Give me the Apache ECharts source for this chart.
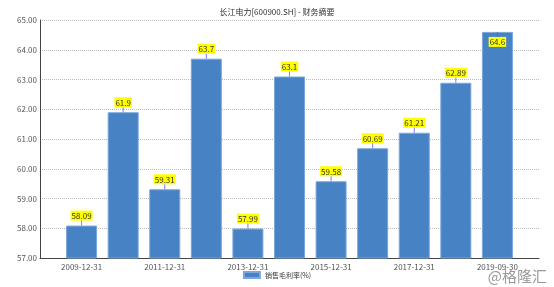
<!DOCTYPE html>
<html><head><meta charset="utf-8">
<script src="https://cdn.jsdelivr.net/npm/echarts@6/dist/echarts.min.js"></script>
<style>html,body{margin:0;padding:0;background:#fff}#c{width:554px;height:287px}</style>
</head><body><div id="c"></div>
<script>
const title = '长江电力[600900.SH] - 财务摘要';
const seriesName = '销售毛利率(%)';
const categories = ['2009-12-31','2010-12-31','2011-12-31','2012-12-31','2013-12-31','2014-12-31','2015-12-31','2016-12-31','2017-12-31','2018-12-31','2019-09-30'];
const values = [58.09, 61.9, 59.31, 63.7, 57.99, 63.1, 59.58, 60.69, 61.21, 62.89, 64.6];
const yTicks = [57, 58, 59, 60, 61, 62, 63, 64, 65];

const xData = [''].concat(categories, ['']);
const pad = v => [null].concat(v, [null]);
const lastIdx = values.length; // index in padded array
const font = '"Microsoft YaHei","Noto Sans CJK SC",sans-serif';

const barData = pad(values).map((v, i) => {
  if (v === null) return null;
  if (i === lastIdx) return {value: v, label: {position: 'insideTop', distance: 5}};
  return v;
});
const lineData = pad(values).map((v, i) => {
  if (v === null) return null;
  return {value: v, symbolOffset: i === lastIdx ? [0, 2.5] : [0, -2.5]};
});

const chart = echarts.init(document.getElementById('c'));
chart.setOption({
  animation: false,
  title: {text: title, left: 'center', top: 3, textStyle: {fontSize: 8, fontWeight: 'normal', color: '#333', fontFamily: font}},
  grid: {left: 40, right: 15, top: 20, bottom: 29},
  legend: {bottom: 3, left: 'center', icon: 'rect', itemWidth: 16, itemHeight: 6, itemGap: 4,
    data: [seriesName], textStyle: {fontSize: 7, color: '#333', fontFamily: font}},
  xAxis: {type: 'category', data: xData, boundaryGap: false,
    axisLine: {lineStyle: {color: '#444'}}, axisTick: {show: false},
    axisLabel: {interval: 0, formatter: (v, i) => (i % 2 === 1 ? v : ''), color: '#555', fontSize: 8, margin: 5, fontFamily: font},
    splitLine: {show: false}},
  yAxis: {type: 'value', min: yTicks[0], max: yTicks[yTicks.length - 1], interval: 1,
    axisLine: {show: true, lineStyle: {color: '#444'}}, axisTick: {show: false},
    axisLabel: {formatter: v => v.toFixed(2), color: '#555', fontSize: 8, margin: 3, fontFamily: font},
    splitLine: {lineStyle: {type: 'dotted', color: '#bbb'}}},
  series: [
    {name: seriesName, type: 'bar', data: barData, barWidth: 31,
      itemStyle: {color: '#4682c4', borderColor: '#7ba7dc', borderWidth: 1},
      label: {show: true, position: 'top', distance: 5, color: '#333', fontSize: 8, fontFamily: font,
        backgroundColor: '#ffff00', padding: [1, 1, 0, 1], lineHeight: 9}},
    {type: 'scatter', data: lineData, symbol: 'rect', symbolSize: [1, 5], z: 5,
      itemStyle: {color: '#5b5bf0'}, silent: true, legendHoverLink: false, tooltip: {show: false}}
  ],
  graphic: [{type: 'text', right: 7, bottom: 3, style: {text: '@格隆汇', fill: '#999', fontSize: 15, fontFamily: font}}]
});
</script></body></html>
